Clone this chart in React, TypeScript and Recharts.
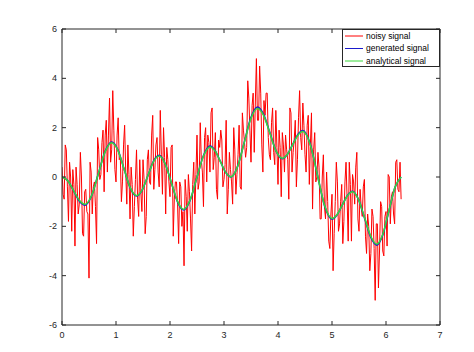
import { Legend, Line, LineChart, XAxis, YAxis } from "recharts";

// sample step of the noisy record
const NOISY_STEP = 0.02;

const noisyY = [
  0.4, -0.7, -0.9, 1.3, 1.1, -0.4, -1.8, 0.6, 0.0, -2.2, 0.3, -0.3, -2.8, 0.4, -0.3, -1.5, -1.1, 1.0, 0.0, -2.3,
  -2.4, -0.6, -0.5, -1.4, -1.5, -4.1, 0.6, 0.2, -1.5, -0.4, -0.2, -1.2, -2.7, 1.6, 1.1, -0.1, 0.1, 1.4, 1.9, -0.6,
  1.7, 2.3, 0.2, 1.7, 3.2, 0.6, 1.1, 3.5, 1.9, 0.3, -0.2, 1.7, 2.4, 0.7, 0.8, -1.0, -0.2, 1.3, 2.1, 0.2,
  -1.1, 1.3, 0.1, -1.7, 0.4, -0.3, -2.4, -1.2, -0.1, 1.1, -0.9, -1.6, 0.7, -0.6, -1.4, 0.7, -0.1, -2.3, -1.6, 0.7,
  1.1, -0.2, -0.3, 1.7, 2.5, -0.5, 0.3, 1.3, 1.6, 0.2, -0.4, 2.7, 0.9, -0.7, 2.0, 0.8, -1.5, 1.2, 0.7, -0.2,
  -0.8, 1.2, 1.3, -2.4, -0.9, -0.2, -0.2, -1.1, -2.7, -0.2, -0.4, -2.0, -1.4, -3.6, -0.1, -0.8, -2.2, 0.1, -0.6, -1.7,
  -3.0, -0.3, 0.6, -1.5, 0.1, 1.7, -0.5, -0.2, 2.2, 0.7, 0.2, -1.2, 1.6, 2.0, -0.2, 1.7, 1.4, 0.2, 2.6, 2.8,
  0.3, 0.8, 1.8, -0.5, -0.9, 1.5, 1.2, 1.9, 1.5, -0.4, -0.1, 0.5, 2.3, -1.5, -0.5, 1.0, 0.3, -0.2, -1.1, 2.0,
  1.1, -0.7, 0.1, 0.9, 2.1, -0.4, -0.5, 2.6, 1.9, 1.4, 0.8, 1.2, 3.9, 3.2, 1.9, 0.6, 2.9, 3.4, 1.0, 3.0,
  4.8, 2.3, 2.3, 4.5, 3.4, 1.3, 0.2, 3.1, 2.5, 3.4, 3.4, 1.6, 0.9, 0.7, 2.2, 2.8, 1.0, 0.5, 2.7, 1.2,
  -0.3, 1.9, 1.2, -0.8, 1.8, 1.3, 0.2, 1.7, 1.1, 0.7, -0.9, 2.8, 2.6, 0.2, 1.0, 1.5, 2.3, -0.4, 0.7, 2.4,
  3.5, 1.6, 1.1, 3.0, 2.1, 0.9, 0.2, 2.1, 2.5, -0.3, 1.3, 2.6, -1.3, 1.1, 1.8, -0.2, 0.0, 1.0, 0.4, -1.7,
  -1.7, 0.0, 0.9, -1.2, -1.7, 0.2, -1.0, -2.6, -2.9, -1.5, -0.7, -3.8, -2.3, -1.0, 0.6, -0.2, -2.2, -1.9, -1.0, -0.3,
  -2.7, -1.8, -0.2, 0.6, -0.9, -2.6, 0.6, -0.3, -2.6, 0.1, -0.2, -1.1, 0.4, 1.0, -1.7, -2.2, -0.5, -1.2, -1.6, -0.4,
  -0.1, -2.4, -3.1, -1.5, -2.0, -3.8, -3.1, -1.3, -1.6, -2.9, -5.0, -1.9, -1.9, -4.5, -3.0, -1.0, -1.2, -3.0, -3.2, -1.6,
  -1.4, -2.8, 0.1, 0.0, -1.9, -0.8, -0.6, -1.5, -1.9, 0.6, 0.7, -0.5, -0.6, 0.6, -0.9,
];

const smoothT = [
  0, 0.11, 0.215, 0.32, 0.43, 0.55, 0.675, 0.8, 0.92, 1.035, 1.15, 1.265,
  1.38, 1.485, 1.59, 1.695, 1.8, 1.91, 2.025, 2.14, 2.25, 2.37, 2.495, 2.62,
  2.74, 2.84, 2.935, 3.03, 3.13, 3.25, 3.375, 3.5, 3.62, 3.735, 3.85, 3.965,
  4.08, 4.175, 4.27, 4.365, 4.46, 4.595, 4.73, 4.865, 5.0, 5.095, 5.19, 5.285,
  5.38, 5.49, 5.605, 5.72, 5.83, 5.94, 6.055, 6.17, 6.28,
];

const generatedY = [
  0, -0.16, -0.56, -0.97, -1.14, -0.75, 0.15, 1.05, 1.42, 1.1, 0.32, -0.45,
  -0.77, -0.53, 0.05, 0.64, 0.88, 0.54, -0.23, -1.01, -1.34, -0.96, -0.04, 0.87,
  1.25, 1.05, 0.62, 0.19, 0.0, 0.42, 1.41, 2.42, 2.84, 2.53, 1.79, 1.05,
  0.74, 0.92, 1.31, 1.71, 1.88, 1.35, 0.08, -1.19, -1.71, -1.53, -1.14, -0.75,
  -0.58, -0.91, -1.68, -2.45, -2.76, -2.35, -1.37, -0.4, 0,
];

const analyticalY = [
  0, -0.16, -0.55, -0.94, -1.1, -0.74, 0.145, 1.03, 1.39, 1.08, 0.32, -0.44,
  -0.75, -0.52, 0.05, 0.62, 0.85, 0.53, -0.23, -0.99, -1.31, -0.94, -0.045, 0.85,
  1.22, 1.04, 0.615, 0.19, 0.01, 0.41, 1.395, 2.38, 2.78, 2.49, 1.77, 1.05,
  0.76, 0.92, 1.3, 1.68, 1.84, 1.33, 0.08, -1.17, -1.68, -1.52, -1.14, -0.76,
  -0.6, -0.91, -1.66, -2.41, -2.72, -2.32, -1.36, -0.4, 0,
];

const xTicks = [0, 1, 2, 3, 4, 5, 6, 7];
const yTicks = [-6, -4, -2, 0, 2, 4, 6];

const seriesNames = ["noisy signal", "generated signal", "analytical signal"];
const seriesColors = ["#ff0000", "#1a1acc", "#3ad83a"];

const noisyData = noisyY.map((y, i) => ({ t: i * NOISY_STEP, y }));
const generatedData = smoothT.map((t, i) => ({ t, y: generatedY[i] }));
const analyticalData = smoothT.map((t, i) => ({ t, y: analyticalY[i] }));

const AXIS = "#262626";
const FONT = "'Liberation Sans', Arial, sans-serif";
const TICK_LEN = 4;

// octave-style ticks: short marks pointing into the plot
function LeftTick(p: any) {
  return (
    <g>
      <line x1={p.x + 5} x2={p.x + 5 + TICK_LEN} y1={p.y} y2={p.y} stroke={AXIS} />
      <text x={p.x} y={p.y} dy="0.34em" textAnchor="end" fill={AXIS} fontSize={9} fontFamily={FONT}>
        {p.payload.value}
      </text>
    </g>
  );
}

function BottomTick(p: any) {
  return (
    <g>
      <line x1={p.x} x2={p.x} y1={p.y - 6} y2={p.y - 6 - TICK_LEN} stroke={AXIS} />
      <text x={p.x} y={p.y} dy="0.75em" textAnchor="middle" fill={AXIS} fontSize={9} fontFamily={FONT}>
        {p.payload.value}
      </text>
    </g>
  );
}

function TopTick(p: any) {
  return <line x1={p.x} x2={p.x} y1={p.y} y2={p.y + TICK_LEN} stroke={AXIS} />;
}

function RightTick(p: any) {
  return <line x1={p.x} x2={p.x - TICK_LEN} y1={p.y} y2={p.y} stroke={AXIS} />;
}

function LegendBox() {
  return (
    <svg width={98} height={38} style={{ display: "block" }}>
      <rect x={0.5} y={0.5} width={97} height={37} fill="#fff" stroke={AXIS} />
      {seriesNames.map((name, i) => (
        <g key={name}>
          <line x1={3} x2={21} y1={7 + i * 12.5} y2={7 + i * 12.5} stroke={seriesColors[i]} strokeWidth={1} />
          <text x={24} y={7 + i * 12.5} dy="0.34em" fontSize={8.5} fontFamily={FONT} fill="#000">
            {name}
          </text>
        </g>
      ))}
    </svg>
  );
}

export default function App() {
  return (
    <div style={{ position: "absolute", left: 0, top: 0, background: "#fff" }}>
      <LineChart width={474} height={352} margin={{ top: 28, right: 33, bottom: 0, left: 0 }}>
        <XAxis
          xAxisId="b"
          type="number"
          dataKey="t"
          domain={[0, 7]}
          ticks={xTicks}
          allowDataOverflow
          height={27}
          stroke={AXIS}
          tickLine={false}
          tickSize={0}
          tickMargin={6}
          tick={BottomTick}
        />
        <XAxis
          xAxisId="top"
          orientation="top"
          type="number"
          dataKey="t"
          domain={[0, 7]}
          ticks={xTicks}
          allowDataOverflow
          height={1}
          stroke={AXIS}
          tickLine={false}
          tickSize={0}
          tickMargin={0}
          tick={TopTick}
        />
        <YAxis
          yAxisId="l"
          type="number"
          domain={[-6, 6]}
          ticks={yTicks}
          allowDataOverflow
          width={62}
          stroke={AXIS}
          tickLine={false}
          tickSize={0}
          tickMargin={5}
          tick={LeftTick}
        />
        <YAxis
          yAxisId="r"
          orientation="right"
          type="number"
          domain={[-6, 6]}
          ticks={yTicks}
          allowDataOverflow
          width={1}
          stroke={AXIS}
          tickLine={false}
          tickSize={0}
          tickMargin={0}
          tick={RightTick}
        />
        <Legend
          layout="vertical"
          align="center"
          verticalAlign="middle"
          content={() => <LegendBox />}
          wrapperStyle={{ left: 342, top: 29, width: 98 }}
        />
        <Line
          xAxisId="b"
          yAxisId="l"
          data={noisyData}
          dataKey="y"
          name={seriesNames[0]}
          type="linear"
          stroke={seriesColors[0]}
          strokeWidth={1}
          dot={false}
          isAnimationActive={false}
        />
        <Line
          xAxisId="b"
          yAxisId="l"
          data={generatedData}
          dataKey="y"
          name={seriesNames[1]}
          type="monotone"
          stroke={seriesColors[1]}
          strokeWidth={1.6}
          dot={false}
          isAnimationActive={false}
        />
        <Line
          xAxisId="b"
          yAxisId="l"
          data={analyticalData}
          dataKey="y"
          name={seriesNames[2]}
          type="monotone"
          stroke={seriesColors[2]}
          strokeWidth={1.5}
          dot={false}
          isAnimationActive={false}
        />
      </LineChart>
    </div>
  );
}
